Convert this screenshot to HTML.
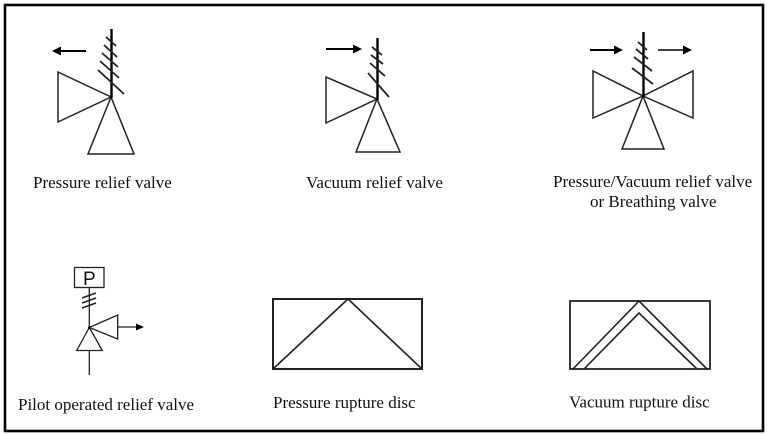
<!DOCTYPE html>
<html>
<head>
<meta charset="utf-8">
<style>
  html, body { margin:0; padding:0; background:#fff; }
  body { width:768px; height:435px; overflow:hidden; }
  svg { display:block; }
  text { font-family: "Liberation Serif", "Times New Roman", serif; font-size:17px; fill:#111; }
</style>
</head>
<body>
<svg width="768" height="435" viewBox="0 0 768 435" xmlns="http://www.w3.org/2000/svg">
  <!-- outer frame -->
  <rect x="5" y="5" width="758" height="426" fill="#fff" stroke="#000" stroke-width="2.6"/>

  <!-- ===== Pressure relief valve ===== -->
  <g stroke="#222" stroke-width="1.5" fill="none" stroke-linejoin="miter">
    <polygon points="58,72 58,122 111,97"/>
    <polygon points="111,97 88,154 134,154"/>
  </g>
  <line x1="111.5" y1="29" x2="111.5" y2="98" stroke="#000" stroke-width="2.4"/>
  <g stroke="#222" stroke-width="1.8">
    <line x1="106" y1="37" x2="116" y2="46"/>
    <line x1="104" y1="45" x2="117" y2="57"/>
    <line x1="102" y1="53" x2="118" y2="67"/>
    <line x1="100" y1="61" x2="119" y2="78"/>
    <line x1="98" y1="70" x2="124" y2="94"/>
  </g>
  <line x1="86" y1="51" x2="60" y2="51" stroke="#000" stroke-width="2"/>
  <polygon points="52,51 61,46.5 61,55.5" fill="#000"/>
  <text x="33" y="188">Pressure relief valve</text>

  <!-- ===== Vacuum relief valve ===== -->
  <g stroke="#222" stroke-width="1.5" fill="none">
    <polygon points="326,77 326,123 377,99"/>
    <polygon points="377,99 356,152 400,152"/>
  </g>
  <line x1="377.5" y1="38" x2="377.5" y2="100" stroke="#000" stroke-width="2.4"/>
  <g stroke="#222" stroke-width="1.8">
    <line x1="372" y1="47" x2="382" y2="55"/>
    <line x1="371" y1="55" x2="383" y2="64"/>
    <line x1="370" y1="63" x2="385" y2="76"/>
    <line x1="368" y1="73" x2="389" y2="97"/>
  </g>
  <line x1="326" y1="49" x2="354" y2="49" stroke="#000" stroke-width="2"/>
  <polygon points="362,49 353,44.5 353,53.5" fill="#000"/>
  <text x="306" y="188">Vacuum relief valve</text>

  <!-- ===== Breathing valve ===== -->
  <g stroke="#222" stroke-width="1.5" fill="none">
    <polygon points="593,71 593,118 643,96"/>
    <polygon points="693,71 693,118 643,96"/>
    <polygon points="643,96 622,149 664,149"/>
  </g>
  <line x1="643.5" y1="32" x2="643.5" y2="97" stroke="#000" stroke-width="2.4"/>
  <g stroke="#222" stroke-width="1.8">
    <line x1="638" y1="42" x2="647" y2="50"/>
    <line x1="636" y1="49" x2="648" y2="59"/>
    <line x1="634" y1="57" x2="652" y2="71"/>
    <line x1="632" y1="68" x2="653" y2="84"/>
  </g>
  <line x1="590" y1="50" x2="615" y2="50" stroke="#000" stroke-width="2"/>
  <polygon points="623,50 614,45.5 614,54.5" fill="#000"/>
  <line x1="658" y1="50" x2="684" y2="50" stroke="#000" stroke-width="1.6"/>
  <polygon points="692,50 683,45.5 683,54.5" fill="#000"/>
  <text x="553" y="187">Pressure/Vacuum relief valve</text>
  <text x="590" y="207">or Breathing valve</text>

  <!-- ===== Pilot operated relief valve ===== -->
  <rect x="74.5" y="267.5" width="29.5" height="20" fill="#fff" stroke="#222" stroke-width="1.3"/>
  <text x="89.3" y="285" text-anchor="middle" style="font-family:'Liberation Sans',Arial,sans-serif;font-size:19px;">P</text>
  <line x1="89.3" y1="287.5" x2="89.3" y2="328" stroke="#222" stroke-width="1.3"/>
  <g stroke="#222" stroke-width="1.5">
    <line x1="82" y1="298" x2="96" y2="293"/>
    <line x1="82" y1="303" x2="96" y2="298"/>
    <line x1="82" y1="308" x2="96" y2="303"/>
  </g>
  <g stroke="#222" stroke-width="1.3" fill="none">
    <polygon points="89.3,327.5 117.7,315 117.7,339"/>
    <polygon points="89.3,327.5 76.7,350.5 102.3,350.5"/>
  </g>
  <circle cx="89.3" cy="327.5" r="1.3" fill="#000"/>
  <line x1="117.7" y1="327" x2="137" y2="327" stroke="#222" stroke-width="1.3"/>
  <polygon points="144,327 136,323.5 136,330.5" fill="#000"/>
  <line x1="89.3" y1="350.5" x2="89.3" y2="375" stroke="#222" stroke-width="1.3"/>
  <text x="18" y="410">Pilot operated relief valve</text>

  <!-- ===== Pressure rupture disc ===== -->
  <rect x="273" y="299" width="149" height="70" fill="none" stroke="#222" stroke-width="2"/>
  <polyline points="273,369 348,299 422,369" fill="none" stroke="#222" stroke-width="1.6"/>
  <text x="273" y="408">Pressure rupture disc</text>

  <!-- ===== Vacuum rupture disc ===== -->
  <rect x="570" y="301" width="140" height="68" fill="none" stroke="#222" stroke-width="1.8"/>
  <polyline points="573,369 639,301 707,369" fill="none" stroke="#222" stroke-width="1.6"/>
  <polyline points="584,369 639,313 697,369" fill="none" stroke="#222" stroke-width="1.6"/>
  <text x="569" y="407.5">Vacuum rupture disc</text>
</svg>
</body>
</html>
